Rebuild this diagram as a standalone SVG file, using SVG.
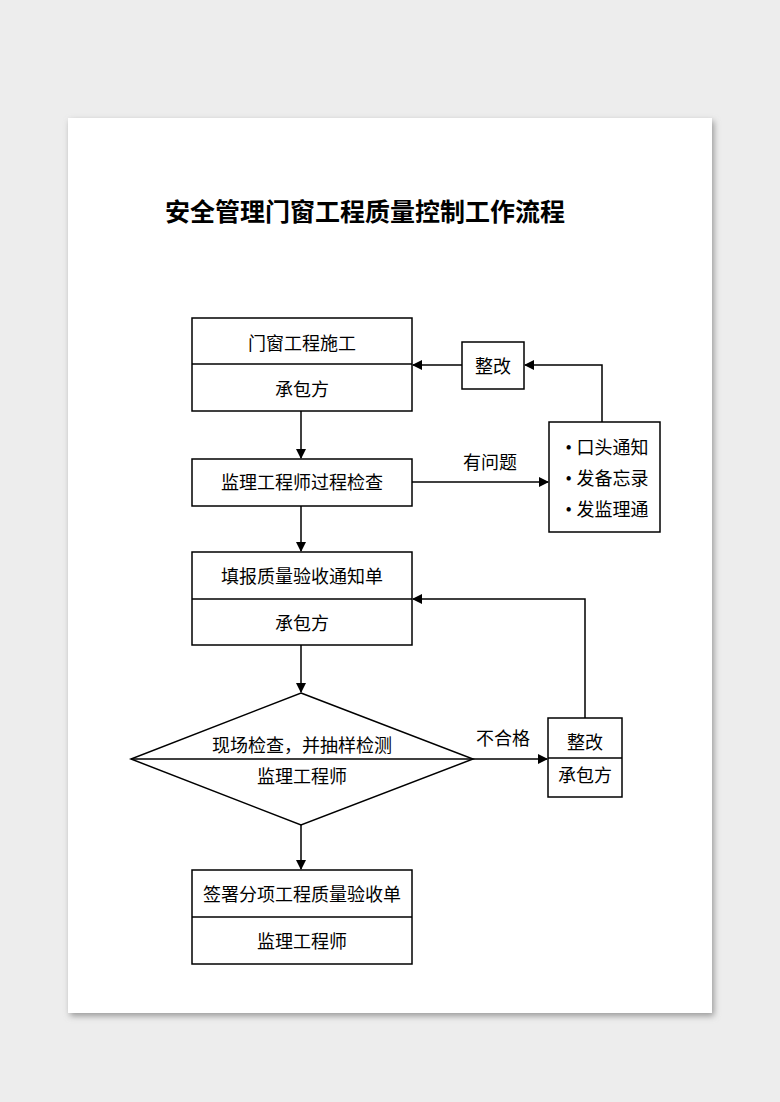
<svg xmlns="http://www.w3.org/2000/svg" width="780" height="1102" viewBox="0 0 780 1102">
<defs>
<marker id="a" markerWidth="10" markerHeight="10" refX="9" refY="5" orient="auto" markerUnits="userSpaceOnUse"><path d="M0,0 L10,5 L0,10 z" fill="#000"/></marker>
<filter id="sh" x="-5%" y="-5%" width="110%" height="110%"><feGaussianBlur stdDeviation="3"/></filter>
</defs>
<style>
rect.n,polygon.n{fill:#fff;stroke:#000;stroke-width:1.5}
line.d{stroke:#000;stroke-width:1.5}
.c path,.c line,.c polyline{stroke:#000;stroke-width:1.5;fill:none}
text{font-family:"Liberation Serif","Noto Sans CJK SC",serif;font-size:18px;fill:#000;text-anchor:middle}
</style>
<rect width="780" height="1102" fill="#ededed"/>
<rect x="70" y="121" width="644" height="895" fill="#999" filter="url(#sh)"/>
<rect x="68" y="118" width="644" height="895" fill="#fff"/>
<text x="365" y="221" style="font-size:25px;font-family:'Noto Sans CJK SC',sans-serif;font-weight:bold">安全管理门窗工程质量控制工作流程</text>
<g id="n1"><rect class="n" x="192" y="318" width="220" height="93"/><line class="d" x1="192" y1="364" x2="412" y2="364"/><text x="302" y="350">门窗工程施工</text><text x="302" y="396">承包方</text></g>
<g id="n2"><rect class="n" x="462" y="342" width="62" height="47"/><text x="493" y="373">整改</text></g>
<g id="n3"><rect class="n" x="549" y="422" width="111" height="110"/><text x="607" y="454">• 口头通知</text><text x="607" y="485">• 发备忘录</text><text x="607" y="516">• 发监理通</text></g>
<g id="n4"><rect class="n" x="192" y="459" width="220" height="47"/><text x="302" y="489">监理工程师过程检查</text></g>
<g id="n5"><rect class="n" x="192" y="552" width="220" height="93"/><line class="d" x1="192" y1="599" x2="412" y2="599"/><text x="302" y="583">填报质量验收通知单</text><text x="302" y="630">承包方</text></g>
<g id="n6"><polygon class="n" points="301,693 473,759 301,825 131,759"/><line class="d" x1="131" y1="759" x2="473" y2="759"/><text x="302" y="752">现场检查，并抽样检测</text><text x="302" y="783">监理工程师</text></g>
<g id="n7"><rect class="n" x="548" y="718" width="74" height="79"/><line class="d" x1="548" y1="758" x2="622" y2="758"/><text x="585" y="749">整改</text><text x="585" y="782">承包方</text></g>
<g id="n8"><rect class="n" x="192" y="870" width="220" height="94"/><line class="d" x1="192" y1="917" x2="412" y2="917"/><text x="302" y="901">签署分项工程质量验收单</text><text x="302" y="948">监理工程师</text></g>
<g class="c" id="connectors">
<line x1="462" y1="365" x2="413" y2="365" marker-end="url(#a)"/>
<polyline points="602,422 602,365 525,365" marker-end="url(#a)"/>
<line x1="301" y1="411" x2="301" y2="458" marker-end="url(#a)"/>
<line x1="412" y1="482" x2="548" y2="482" marker-end="url(#a)"/>
<line x1="301" y1="506" x2="301" y2="551" marker-end="url(#a)"/>
<line x1="301" y1="645" x2="301" y2="692" marker-end="url(#a)"/>
<line x1="473" y1="759" x2="547" y2="759" marker-end="url(#a)"/>
<polyline points="585,718 585,599 413,599" marker-end="url(#a)"/>
<line x1="301" y1="825" x2="301" y2="869" marker-end="url(#a)"/>
<text x="490" y="469">有问题</text>
<text x="503" y="745">不合格</text>
</g>
</svg>
